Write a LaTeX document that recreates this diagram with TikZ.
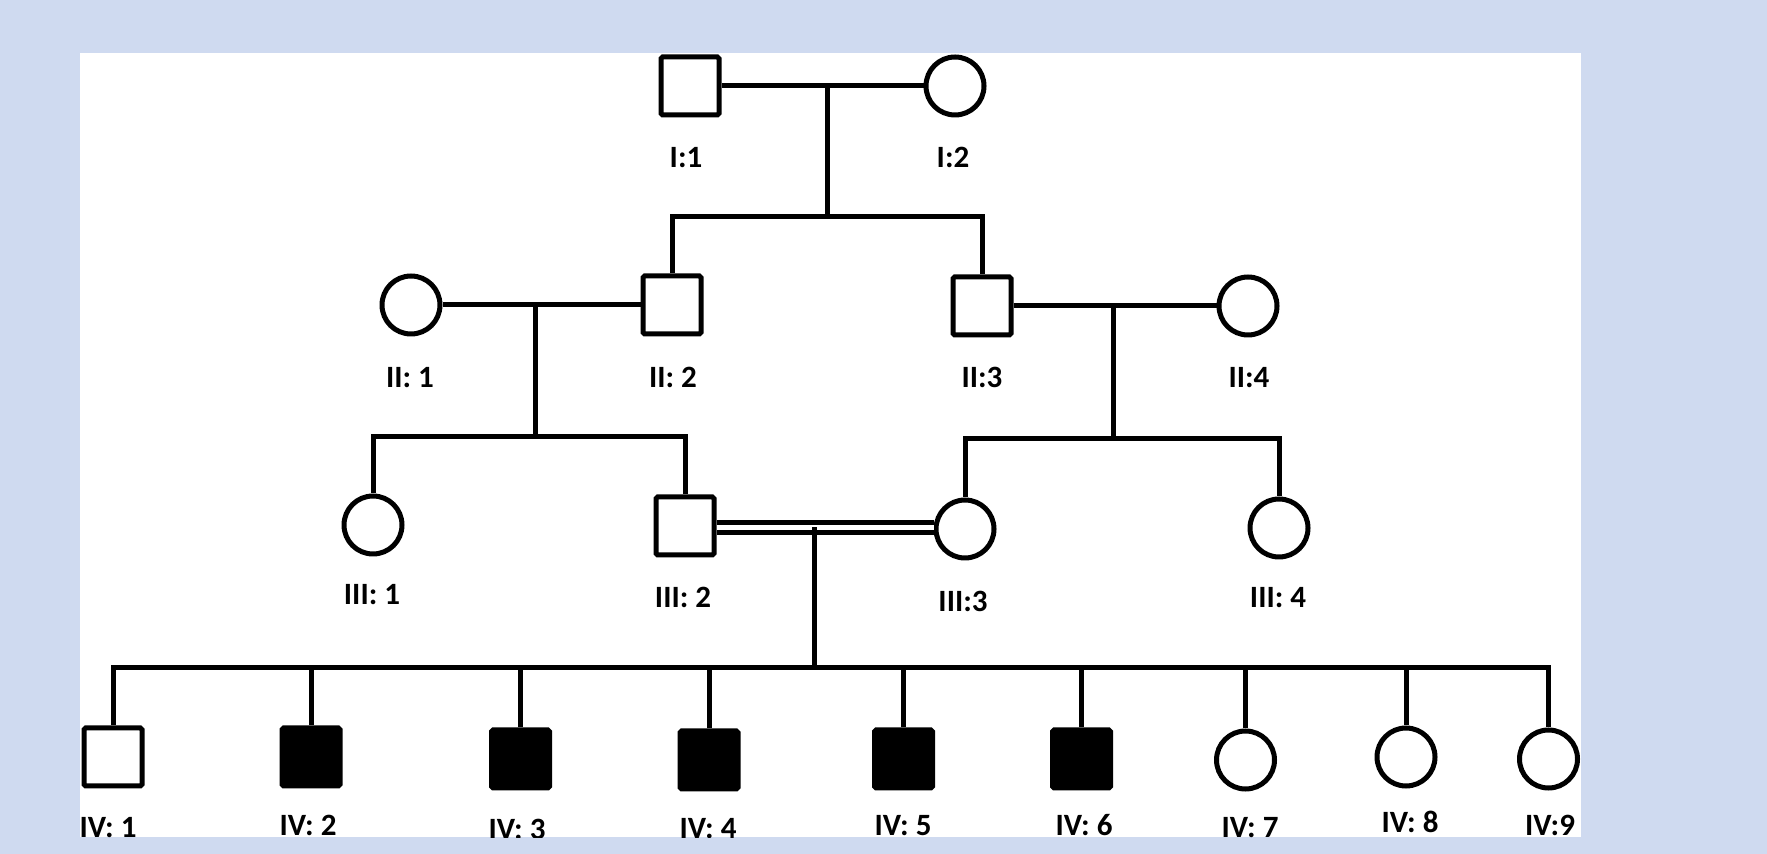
\documentclass[tikz,border=0pt]{standalone}
\usepackage{fontspec}
\setmainfont{Carlito}
\definecolor{bgblue}{RGB}{207,218,240}
\tikzset{
  ln/.style={line width=2.5pt},
  male/.style={draw, ln, rectangle, rounded corners=0.8pt, minimum size=29pt, inner sep=0pt, fill=white},
  female/.style={draw, ln, circle, minimum size=29pt, inner sep=0pt, fill=white},
  aff/.style={fill=black},
  lab/.style={anchor=base, inner sep=0pt, font=\fontsize{15.5}{18}\selectfont\bfseries},
  dbl/.style={line width=2.5pt, double=white, double distance=2.6pt}
}
\begin{document}
\begin{tikzpicture}[x=0.5pt,y=-0.5pt]
\useasboundingbox (0,0) rectangle (1767,854);
\fill[bgblue] (0,0) rectangle (1767,854);
\fill[white] (80,53) rectangle (1581,837);
\begin{scope}
\clip (80,53) rectangle (1581,837);
% coordinates
\coordinate (m1) at (827,86);
\coordinate (s1) at (827,217);
\coordinate (m2) at (535,305);
\coordinate (s2) at (535,437);
\coordinate (m3) at (1113,306);
\coordinate (s3) at (1113,439);
\coordinate (m4) at (814,527.5);
\coordinate (s4) at (814,668);
% generation I
\node[male] (I1) at (690,86) {};
\node[female] (I2) at (955,86) {};
% generation II
\node[female] (II1) at (411,305) {};
\node[male] (II2) at (672,305) {};
\node[male] (II3) at (982,306) {};
\node[female] (II4) at (1248,306) {};
% generation III
\node[female] (III1) at (373,525) {};
\node[male] (III2) at (685,526) {};
\node[female] (III3) at (965,529) {};
\node[female] (III4) at (1279,528) {};
% generation IV
\node[male] (IV1) at (113,757) {};
\node[male,aff] (IV2) at (311,757) {};
\node[male,aff] (IV3) at (520.5,759) {};
\node[male,aff] (IV4) at (709,760) {};
\node[male,aff] (IV5) at (903.5,759) {};
\node[male,aff] (IV6) at (1081.5,759) {};
\node[female] (IV7) at (1245.5,760) {};
\node[female] (IV8) at (1406,757) {};
\node[female] (IV9) at (1548.5,759) {};
% connectors
\draw[ln] (I1.east) -- (I2.west);
\draw[ln] (m1) -- (s1);
\draw[ln] (II2.north) |- (s1) -| (II3.north);
\draw[ln] (II1.east) -- (II2.west);
\draw[ln] (II3.east) -- (II4.west);
\draw[ln] (m2) -- (s2);
\draw[ln] (III1.north) |- (s2) -| (III2.north);
\draw[ln] (m3) -- (s3);
\draw[ln] (III3.north) |- (s3) -| (III4.north);
\draw[dbl] (III2.east |- m4) -- (III3.west |- m4);
\draw[ln] (m4) -- (s4);
\draw[ln] (IV1.north) |- (s4) -| (IV9.north);
\foreach \k in {2,...,8} { \draw[ln] (IV\k.north) -- (IV\k.north |- s4); }
% labels
\node[lab] (lI1) at (686,168) {I:1};
\node[lab] (lI2) at (953,168) {I:2};
\node[lab] (lII1) at (410,388) {II: 1};
\node[lab] (lII2) at (673,388) {II: 2};
\node[lab] (lII3) at (982,388) {II:3};
\node[lab] (lII4) at (1249,388) {II:4};
\node[lab] (lIII1) at (372,605) {III: 1};
\node[lab] (lIII2) at (683,608) {III: 2};
\node[lab] (lIII3) at (963,612) {III:3};
\node[lab] (lIII4) at (1278,608) {III: 4};
\node[lab] (lIV1) at (108,837) {IV: 1};
\node[lab] (lIV2) at (308,835) {IV: 2};
\node[lab] (lIV3) at (517,840) {IV: 3};
\node[lab] (lIV4) at (708,838) {IV: 4};
\node[lab] (lIV5) at (903,835) {IV: 5};
\node[lab] (lIV6) at (1084,835) {IV: 6};
\node[lab] (lIV7) at (1250,837) {IV: 7};
\node[lab] (lIV8) at (1410,833) {IV: 8};
\node[lab] (lIV9) at (1550,835) {IV:9};
\end{scope}
\end{tikzpicture}
\end{document}
